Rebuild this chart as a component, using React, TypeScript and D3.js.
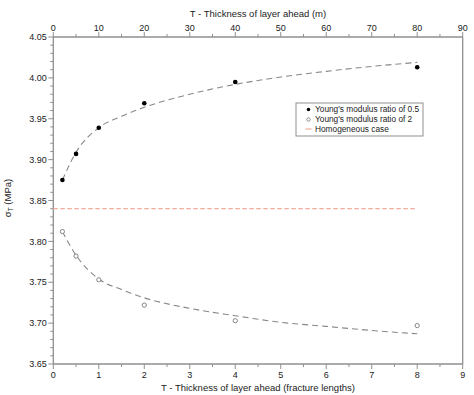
import React from "react";
import * as d3 from "d3";

const W = 474;
const H = 395;

// fracture lengths
const ptsX = [0.2, 0.5, 1, 2, 4, 8];
const ratioHalf = [3.875, 3.907, 3.939, 3.969, 3.995, 4.013];
const ratioTwo = [3.812, 3.782, 3.753, 3.722, 3.703, 3.697];

const fitX = [0.2, 0.5, 1, 1.5, 2, 3, 4, 5, 6, 7, 8];
const fitHalf = [3.875, 3.909, 3.939, 3.953, 3.964, 3.980, 3.992, 4.001, 4.008, 4.014, 4.019];
const fitTwo = [3.812, 3.783, 3.754, 3.741, 3.731, 3.718, 3.709, 3.701, 3.696, 3.691, 3.687];

const homoX = [0, 8];
const homoValue = 3.84;

const bottomTicks = [0, 1, 2, 3, 4, 5, 6, 7, 8, 9];
const topTicks = [0, 10, 20, 30, 40, 50, 60, 70, 80, 90];
const yTicks = [3.65, 3.7, 3.75, 3.8, 3.85, 3.9, 3.95, 4.0, 4.05];

const legendLabels = [
  "Young's modulus ratio of 0.5",
  "Young's modulus ratio of 2",
  "Homogeneous case",
];

const FONT = "'Liberation Sans', Arial, Helvetica, sans-serif";

export default function App() {
  const left = 53.3, right = 462.7, top = 37, bottom = 364;
  const x = d3.scaleLinear().domain([0, 9]).range([left, right]);
  const xTop = d3.scaleLinear().domain([0, 90]).range([left, right]);
  const y = d3.scaleLinear().domain([3.65, 4.05]).range([bottom, top]);

  const line = d3
    .line<[number, number]>()
    .x((d) => x(d[0]))
    .y((d) => y(d[1]))
    .curve(d3.curveMonotoneX);

  const axisColor = "#8f8f8f";
  const textColor = "#222";

  const bottomMinor = d3.range(0.5, 9, 1);
  const topMinor = d3.range(5, 90, 10);
  const yMinor = d3.range(0, 41).map((i) => 3.65 + i * 0.01).filter((v) => Math.abs(Math.round(v * 20) - v * 20) > 1e-6);

  return (
    <svg width={W} height={H} style={{ position: "absolute", left: 0, top: 0, background: "#fff" }} fontFamily={FONT}>
      {/* frame */}
      <line x1={left} x2={right} y1={top} y2={top} stroke={axisColor} strokeWidth={1.3} />
      <line x1={left} x2={right} y1={bottom} y2={bottom} stroke={axisColor} strokeWidth={1.3} />
      <line x1={left} x2={left} y1={top} y2={bottom} stroke={axisColor} strokeWidth={1.3} />
      <line x1={right} x2={right} y1={top} y2={bottom} stroke={axisColor} strokeWidth={1.3} />

      {/* bottom axis */}
      {bottomTicks.map((t) => (
        <g key={"b" + t}>
          <line x1={x(t)} x2={x(t)} y1={bottom} y2={bottom + 5} stroke={axisColor} strokeWidth={1} />
          <text x={x(t)} y={bottom + 14} fontSize={9} textAnchor="middle" fill={textColor}>{t}</text>
        </g>
      ))}
      {bottomMinor.map((t) => (
        <line key={"bm" + t} x1={x(t)} x2={x(t)} y1={bottom} y2={bottom + 3} stroke={axisColor} strokeWidth={1} />
      ))}
      <text x={(left + right) / 2} y={391} fontSize={9.5} textAnchor="middle" fill={textColor}>
        T - Thickness of layer ahead (fracture lengths)
      </text>

      {/* top axis */}
      {topTicks.map((t) => (
        <g key={"t" + t}>
          <line x1={xTop(t)} x2={xTop(t)} y1={top} y2={top - 5} stroke={axisColor} strokeWidth={1} />
          <text x={xTop(t)} y={top - 6} fontSize={9} textAnchor="middle" fill={textColor}>{t}</text>
        </g>
      ))}
      {topMinor.map((t) => (
        <line key={"tm" + t} x1={xTop(t)} x2={xTop(t)} y1={top} y2={top - 3} stroke={axisColor} strokeWidth={1} />
      ))}
      <text x={(left + right) / 2} y={17} fontSize={9.5} textAnchor="middle" fill={textColor}>
        T - Thickness of layer ahead (m)
      </text>

      {/* left axis */}
      {yTicks.map((t) => (
        <g key={"y" + t}>
          <line x1={left} x2={left - 5} y1={y(t)} y2={y(t)} stroke={axisColor} strokeWidth={1} />
          <text x={left - 6.5} y={y(t) + 3.2} fontSize={9} textAnchor="end" fill={textColor}>{t.toFixed(2)}</text>
        </g>
      ))}
      {yMinor.map((t) => (
        <line key={"ym" + t.toFixed(3)} x1={left} x2={left - 3} y1={y(t)} y2={y(t)} stroke={axisColor} strokeWidth={1} />
      ))}
      <text transform={`translate(11,198) rotate(-90)`} fontSize={9.5} textAnchor="middle" fill={textColor}>
        σ<tspan fontSize={6.5} dy={2}>T</tspan><tspan dy={-2}> (MPa)</tspan>
      </text>

      {/* homogeneous line */}
      <line
        x1={x(homoX[0])}
        x2={x(homoX[1])}
        y1={y(homoValue)}
        y2={y(homoValue)}
        stroke="#f4aa9c"
        strokeWidth={1.2}
        strokeDasharray="4.5 2.5"
      />

      {/* fit curves */}
      <path d={line(fitX.map((v, i) => [v, fitHalf[i]]))!} fill="none" stroke="#888" strokeWidth={1.1} strokeDasharray="6 4" />
      <path d={line(fitX.map((v, i) => [v, fitTwo[i]]))!} fill="none" stroke="#888" strokeWidth={1.1} strokeDasharray="6 4" />

      {/* points */}
      {ptsX.map((v, i) => (
        <circle key={"h" + i} cx={x(v)} cy={y(ratioHalf[i])} r={2.3} fill="#000" />
      ))}
      {ptsX.map((v, i) => (
        <circle key={"o" + i} cx={x(v)} cy={y(ratioTwo[i])} r={2.1} fill="#fff" stroke="#777" strokeWidth={0.9} />
      ))}

      {/* legend */}
      <rect x={296} y={103} width={127} height={33} fill="#fff" stroke="#8f8f8f" strokeWidth={1} />
      <circle cx={308.5} cy={109.5} r={1.8} fill="#000" />
      <circle cx={308.5} cy={119.5} r={1.7} fill="#fff" stroke="#777" strokeWidth={0.8} />
      <line x1={305.5} x2={311.5} y1={129} y2={129} stroke="#f4aa9c" strokeWidth={1.2} />
      {legendLabels.map((l, i) => (
        <text key={l} x={315} y={112.3 + i * 9.8} fontSize={8.3} fill={textColor}>{l}</text>
      ))}
    </svg>
  );
}
